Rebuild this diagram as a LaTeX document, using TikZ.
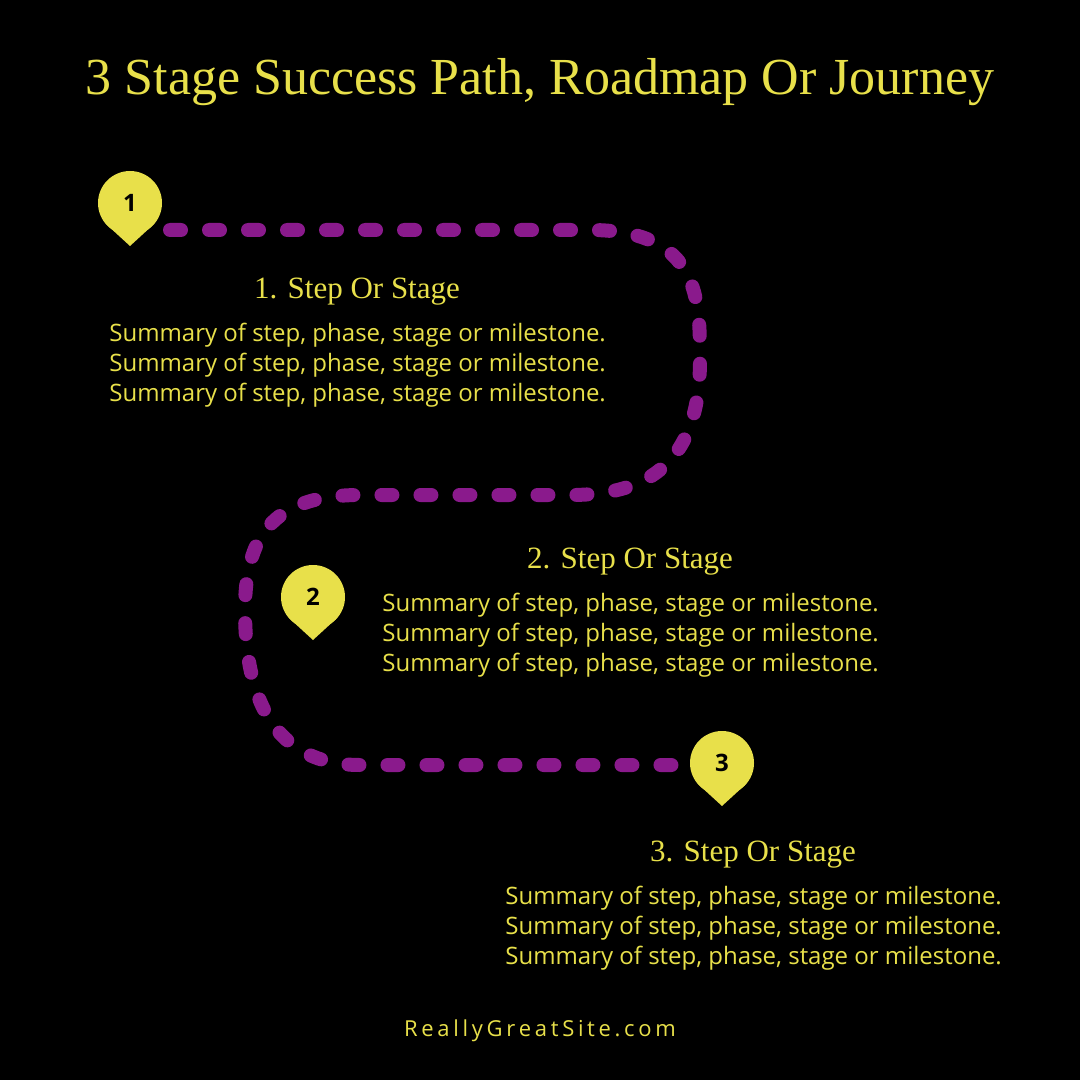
\documentclass[tikz,border=0pt]{standalone}
\usepackage{fontspec}
\setmainfont{Liberation Serif}
\newfontfamily\bodyfont{Open Sans}
\definecolor{yel}{HTML}{E8E04A}
\definecolor{pur}{HTML}{8A1A8C}
\begin{document}
\begin{tikzpicture}[x=0.5pt,y=-0.5pt,
  road/.style={pur,line width=7pt,line cap=round,dash pattern=on 5.5pt off 14pt},
  pinbody/.style={fill=yel},
  head/.style={text=yel,font=\fontsize{15.5}{18}\selectfont},
  body/.style={text=yel,font=\bodyfont\fontsize{12}{15}\selectfont,align=left,anchor=north west,inner sep=0pt},
  num/.style={font=\bodyfont\bfseries\fontsize{12}{13}\selectfont,text=black}]
\fill[black] (0,0) rectangle (1080,1080);
\useasboundingbox (0,0) rectangle (1080,1080);
\node[text=yel,font=\fontsize{26}{30}\selectfont] (title) at (540,82) {3 Stage Success Path, Roadmap Or Journey};
\coordinate (s) at (170,230);
\coordinate (e) at (690,765);
\draw[road] (s) -- (590,230) .. controls (700,230) and (700,300) .. (700,360)
  .. controls (700,470) and (640,495) .. (570,495) -- (360,495)
  .. controls (270,495) and (245,540) .. (245,610)
  .. controls (245,720) and (290,765) .. (360,765) -- (e);
\foreach \n/\x/\y in {1/130/203,2/313/597,3/722/763}{
  \fill[pinbody] (\x,\y) circle (32);
  \fill[pinbody] (\x-24,\y+21) -- (\x,\y+43) -- (\x+24,\y+21) -- cycle;
  \node[num] (p\n) at (\x,\y) {\n};
}
\node[head] (h1) at (357,292) {1. Step Or Stage};
\node[body] (b1) at (109,323) {Summary of step, phase, stage or milestone.\\Summary of step, phase, stage or milestone.\\Summary of step, phase, stage or milestone.};
\node[head] (h2) at (630,562) {2. Step Or Stage};
\node[body] (b2) at (382,593) {Summary of step, phase, stage or milestone.\\Summary of step, phase, stage or milestone.\\Summary of step, phase, stage or milestone.};
\node[head] (h3) at (753,855) {3. Step Or Stage};
\node[body] (b3) at (505,886) {Summary of step, phase, stage or milestone.\\Summary of step, phase, stage or milestone.\\Summary of step, phase, stage or milestone.};
\node[text=yel,font=\bodyfont\fontsize{11}{13}\selectfont] (foot) at (540,1031) {R\,e\,a\,l\,l\,y\,G\,r\,e\,a\,t\,S\,i\,t\,e\,.\,c\,o\,m};
\end{tikzpicture}
\end{document}
